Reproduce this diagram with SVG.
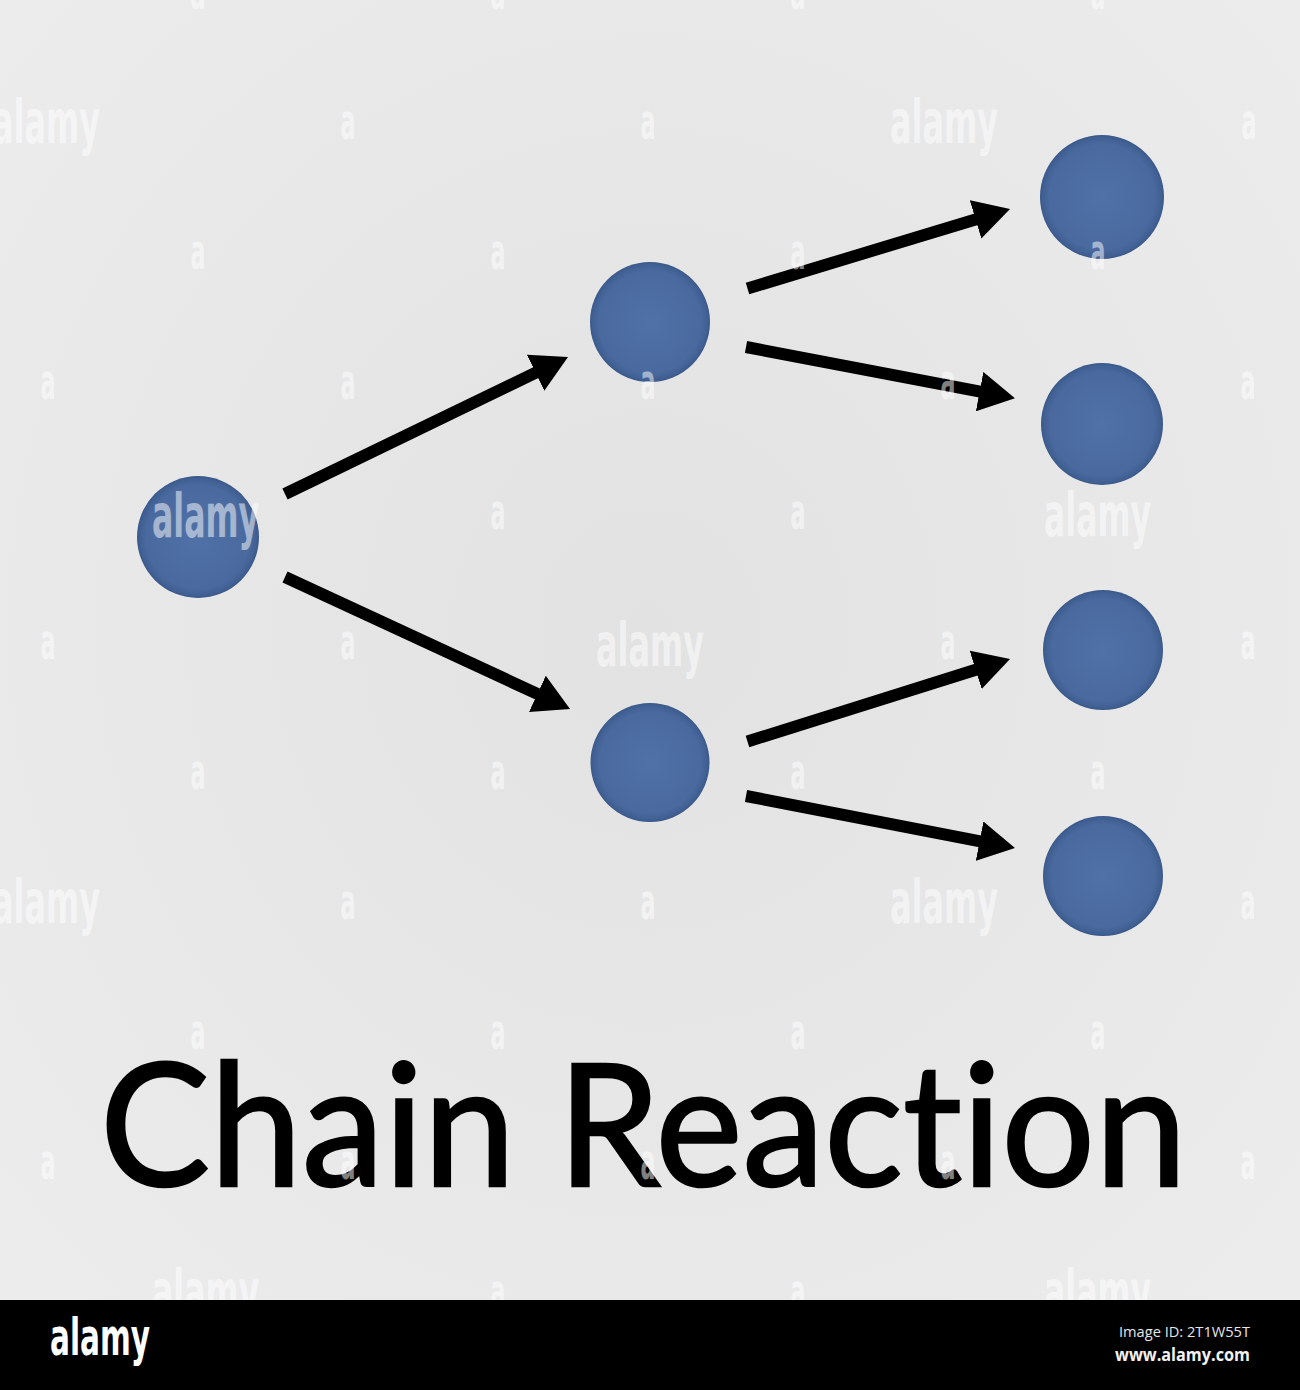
<svg xmlns="http://www.w3.org/2000/svg" width="1300" height="1390" viewBox="0 0 1300 1390">
  <style>
    .arrow { stroke: #000; stroke-width: 12; fill: none; stroke-linecap: butt; marker-end: url(#head); }
    .node { fill: url(#ball); }
    .title { font-family: Lato, "Open Sans", "Liberation Sans", sans-serif; font-size: 170px; fill: #000; stroke: #000; stroke-width: 2.5; font-variant-ligatures: none; font-feature-settings: "liga" 0, "dlig" 0; }
    .wm { font-family: "Liberation Sans Narrow", "DejaVu Sans Condensed", "Liberation Sans", sans-serif; font-weight: bold; fill: #fff; opacity: 0.5; }
    .wa { font-size: 50px; }
    .wl { font-size: 60px; }
    .logo { font-family: "Liberation Sans Narrow", "DejaVu Sans Condensed", "Liberation Sans", sans-serif; font-weight: bold; font-size: 52px; fill: #fff; }
    .imgid { font-family: "Open Sans", "Noto Sans", "DejaVu Sans", sans-serif; font-size: 14px; fill: #e6e6e6; }
    .url { font-family: "Open Sans", "Noto Sans", "DejaVu Sans", sans-serif; font-size: 18px; font-weight: bold; fill: #f2f2f2; }
  </style>
  <defs>
    <radialGradient id="bg" cx="50%" cy="45%" r="75%">
      <stop offset="0" stop-color="#e2e2e3"/>
      <stop offset="1" stop-color="#ededee"/>
    </radialGradient>
    <radialGradient id="ball" cx="50%" cy="50%" r="50%">
      <stop offset="0" stop-color="#4f71a7"/>
      <stop offset="0.85" stop-color="#4a6a9f"/>
      <stop offset="0.96" stop-color="#405f93"/>
      <stop offset="1" stop-color="#3a5888"/>
    </radialGradient>
    <marker id="head" viewBox="0 0 36 40" markerWidth="36" markerHeight="40" markerUnits="userSpaceOnUse" refX="6" refY="20" orient="auto">
      <path d="M0,0 L36,20 L0,40 Z" fill="#000"/>
    </marker>
  </defs>

  <rect x="0" y="0" width="1300" height="1390" fill="url(#bg)"/>

  <g id="connectors">
    <line class="arrow" x1="285" y1="494" x2="541" y2="370.1"/>
    <line class="arrow" x1="285" y1="577" x2="542.8" y2="696.4"/>
    <line class="arrow" x1="747.5" y1="288.5" x2="981.3" y2="217.7"/>
    <line class="arrow" x1="746" y1="347" x2="985.5" y2="392.7"/>
    <line class="arrow" x1="747.5" y1="741.5" x2="981.4" y2="668"/>
    <line class="arrow" x1="746" y1="796" x2="985.5" y2="842.3"/>
  </g>

  <g id="node-source"><circle class="node" cx="198" cy="537" r="61"/></g>
  <g id="node-mid-top"><circle class="node" cx="650" cy="322" r="60"/></g>
  <g id="node-mid-bottom"><circle class="node" cx="650" cy="762.5" r="59.5"/></g>
  <g id="node-right-1"><circle class="node" cx="1102" cy="197" r="62"/></g>
  <g id="node-right-2"><circle class="node" cx="1102" cy="424" r="61"/></g>
  <g id="node-right-3"><circle class="node" cx="1103" cy="650" r="60"/></g>
  <g id="node-right-4"><circle class="node" cx="1103" cy="876" r="60"/></g>

  <g id="title">
    <text class="title" x="100" y="1186" textLength="1087" lengthAdjust="spacingAndGlyphs">Chain Reaction</text>
  </g>

  <g id="watermarks">
    <text class="wm wa" x="190.5" y="9" textLength="15" lengthAdjust="spacingAndGlyphs">a</text>
    <text class="wm wa" x="490.5" y="9" textLength="15" lengthAdjust="spacingAndGlyphs">a</text>
    <text class="wm wa" x="790.5" y="9" textLength="15" lengthAdjust="spacingAndGlyphs">a</text>
    <text class="wm wa" x="1090.5" y="9" textLength="15" lengthAdjust="spacingAndGlyphs">a</text>

    <text class="wm wl" x="-8" y="143" textLength="108" lengthAdjust="spacingAndGlyphs">alamy</text>
    <text class="wm wa" x="340.5" y="139" textLength="15" lengthAdjust="spacingAndGlyphs">a</text>
    <text class="wm wa" x="640.5" y="139" textLength="15" lengthAdjust="spacingAndGlyphs">a</text>
    <text class="wm wl" x="890" y="143" textLength="108" lengthAdjust="spacingAndGlyphs">alamy</text>
    <text class="wm wa" x="1241.5" y="139" textLength="15" lengthAdjust="spacingAndGlyphs">a</text>

    <text class="wm wa" x="190.5" y="269" textLength="15" lengthAdjust="spacingAndGlyphs">a</text>
    <text class="wm wa" x="490.5" y="269" textLength="15" lengthAdjust="spacingAndGlyphs">a</text>
    <text class="wm wa" x="790.5" y="269" textLength="15" lengthAdjust="spacingAndGlyphs">a</text>
    <text class="wm wa" x="1090.5" y="269" textLength="15" lengthAdjust="spacingAndGlyphs">a</text>

    <text class="wm wa" x="40.5" y="399" textLength="15" lengthAdjust="spacingAndGlyphs">a</text>
    <text class="wm wa" x="340.5" y="399" textLength="15" lengthAdjust="spacingAndGlyphs">a</text>
    <text class="wm wa" x="640.5" y="399" textLength="15" lengthAdjust="spacingAndGlyphs">a</text>
    <text class="wm wa" x="940.5" y="399" textLength="15" lengthAdjust="spacingAndGlyphs">a</text>
    <text class="wm wa" x="1240.5" y="399" textLength="15" lengthAdjust="spacingAndGlyphs">a</text>

    <text class="wm wl" x="152" y="537" textLength="107" lengthAdjust="spacingAndGlyphs">alamy</text>
    <text class="wm wa" x="490.5" y="529" textLength="15" lengthAdjust="spacingAndGlyphs">a</text>
    <text class="wm wa" x="790.5" y="529" textLength="15" lengthAdjust="spacingAndGlyphs">a</text>
    <text class="wm wl" x="1044" y="536" textLength="107" lengthAdjust="spacingAndGlyphs">alamy</text>

    <text class="wm wa" x="40.5" y="659" textLength="15" lengthAdjust="spacingAndGlyphs">a</text>
    <text class="wm wa" x="340.5" y="659" textLength="15" lengthAdjust="spacingAndGlyphs">a</text>
    <text class="wm wl" x="596" y="666" textLength="108" lengthAdjust="spacingAndGlyphs">alamy</text>
    <text class="wm wa" x="940.5" y="659" textLength="15" lengthAdjust="spacingAndGlyphs">a</text>
    <text class="wm wa" x="1240.5" y="659" textLength="15" lengthAdjust="spacingAndGlyphs">a</text>

    <text class="wm wa" x="190.5" y="789" textLength="15" lengthAdjust="spacingAndGlyphs">a</text>
    <text class="wm wa" x="490.5" y="789" textLength="15" lengthAdjust="spacingAndGlyphs">a</text>
    <text class="wm wa" x="790.5" y="789" textLength="15" lengthAdjust="spacingAndGlyphs">a</text>
    <text class="wm wa" x="1090.5" y="789" textLength="15" lengthAdjust="spacingAndGlyphs">a</text>

    <text class="wm wl" x="-8" y="923" textLength="108" lengthAdjust="spacingAndGlyphs">alamy</text>
    <text class="wm wa" x="340.5" y="919" textLength="15" lengthAdjust="spacingAndGlyphs">a</text>
    <text class="wm wa" x="640.5" y="919" textLength="15" lengthAdjust="spacingAndGlyphs">a</text>
    <text class="wm wl" x="890" y="923" textLength="108" lengthAdjust="spacingAndGlyphs">alamy</text>
    <text class="wm wa" x="1240.5" y="919" textLength="15" lengthAdjust="spacingAndGlyphs">a</text>

    <text class="wm wa" x="190.5" y="1049" textLength="15" lengthAdjust="spacingAndGlyphs">a</text>
    <text class="wm wa" x="490.5" y="1049" textLength="15" lengthAdjust="spacingAndGlyphs">a</text>
    <text class="wm wa" x="790.5" y="1049" textLength="15" lengthAdjust="spacingAndGlyphs">a</text>
    <text class="wm wa" x="1090.5" y="1049" textLength="15" lengthAdjust="spacingAndGlyphs">a</text>

    <text class="wm wa" x="40.5" y="1179" textLength="15" lengthAdjust="spacingAndGlyphs">a</text>
    <text class="wm wa" x="340.5" y="1179" textLength="15" lengthAdjust="spacingAndGlyphs">a</text>
    <text class="wm wa" x="640.5" y="1179" textLength="15" lengthAdjust="spacingAndGlyphs">a</text>
    <text class="wm wa" x="940.5" y="1179" textLength="15" lengthAdjust="spacingAndGlyphs">a</text>
    <text class="wm wa" x="1240.5" y="1179" textLength="15" lengthAdjust="spacingAndGlyphs">a</text>

    <text class="wm wl" x="152" y="1313" textLength="107" lengthAdjust="spacingAndGlyphs">alamy</text>
    <text class="wm wa" x="490.5" y="1309" textLength="15" lengthAdjust="spacingAndGlyphs">a</text>
    <text class="wm wa" x="790.5" y="1309" textLength="15" lengthAdjust="spacingAndGlyphs">a</text>
    <text class="wm wl" x="1044" y="1313" textLength="107" lengthAdjust="spacingAndGlyphs">alamy</text>
  </g>

  <g id="footer">
    <rect x="0" y="1300" width="1300" height="90" fill="#000"/>
    <text class="logo" x="50" y="1355" textLength="100" lengthAdjust="spacingAndGlyphs">alamy</text>
    <text class="imgid" x="1119" y="1337" textLength="131" lengthAdjust="spacingAndGlyphs">Image ID: 2T1W55T</text>
    <text class="url" x="1115" y="1361" textLength="135" lengthAdjust="spacingAndGlyphs">www.alamy.com</text>
  </g>
</svg>
